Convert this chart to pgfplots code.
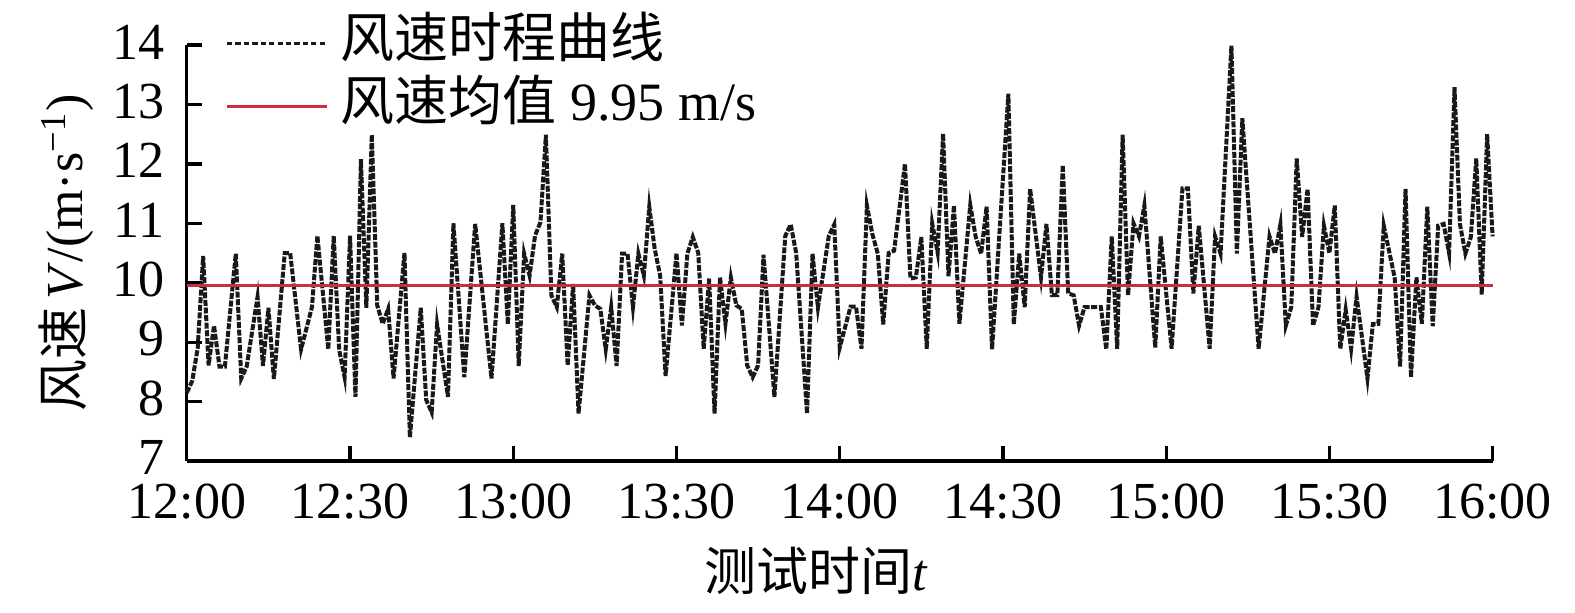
\documentclass[border=0pt]{standalone}
\usepackage{fontspec}
\setmainfont{Liberation Serif}
\newfontfamily\cjk{Noto Sans CJK SC}
\usepackage{pgfplots}
\pgfplotsset{compat=1.18}
\definecolor{meanred}{RGB}{205,45,65}
\definecolor{curveblk}{RGB}{25,25,25}

\begin{document}
\fontsize{13}{15.6}\selectfont
\begin{tikzpicture}
\useasboundingbox (-46.7pt,-37.75pt) rectangle (347pt,115.25pt);
\begin{axis}[
    at={(0,0)}, anchor=south west,
    width=326.4pt, height=104pt, scale only axis,
    xmin=0, xmax=240, ymin=7, ymax=14,
    axis x line=bottom, axis y line=left,
    axis line style={line width=0.8pt, -},
    tick style={line width=0.8pt, black},
    tick align=inside, major tick length=3.8pt,
    xtick={0,30,...,240},
    xticklabels={12:00,12:30,13:00,13:30,14:00,14:30,15:00,15:30,16:00},
    ytick={7,8,...,14},
    /pgf/number format/assume math mode=true,
    tick label style={font=\fontsize{13}{15.6}\selectfont, inner sep=0pt},
    yticklabel style={xshift=-5.5pt, yshift=0.8pt},
    xticklabel style={yshift=-5.4pt},
    xlabel={{\cjk 测试时间}\textit{t}},
    xlabel style={at={(axis description cs:0.482,-0.264)}, anchor=center},
    ylabel={{\cjk 风速}\,\textit{V}/(m·s\textsuperscript{−1})},
    ylabel style={at={(axis description cs:-0.092,0.5)}, anchor=center},
    label style={font=\fontsize{13}{15.6}\selectfont},
    clip=false,
    legend cell align=left,
    legend image code/.code={\draw[#1] (0pt,0pt) -- (25pt,0pt);},
    legend style={draw=none, fill=none, inner sep=0pt,
        at={(axis description cs:0.029,1.073)}, anchor=north west,
        font=\fontsize{13.5}{16}\selectfont,
        nodes={inner sep=0.5pt, text height=10pt, text depth=3pt},
        row sep=1.75pt, column sep=2.5pt},
]
\addplot[curveblk, line width=1pt, dash pattern=on 1.5pt off 0.4pt, forget plot] coordinates {
(0,8.15) (1,8.35) (2,8.9) (3,10.45) (4,8.61) (5,9.28) (6,8.59) (7,8.59)
(9,10.49) (10,8.39) (11,8.59) (13,9.76) (14,8.6) (15,9.58) (16,8.38)
(18,10.5) (19,10.5) (21,8.88) (23,9.59) (24,10.79) (26,8.88) (27,10.79)
(28,8.87) (29,8.41) (30,10.79) (31,8.08) (32,12.08) (33,9.58) (34,12.49)
(35,9.62) (36,9.31) (37,9.56) (38,8.39) (40,10.5) (41,7.4) (43,9.58)
(44,8.03) (45,7.82) (46,9.3) (48,8.08) (49,11.0) (51,8.41) (53,10.99)
(56,8.39) (58,11.0) (59,9.3) (60,11.31) (61,8.6) (62,10.49) (63,10.12)
(64,10.79) (65,11.02) (66,12.49) (67,9.79) (68,9.59) (69,10.49) (70,8.61)
(71,9.98) (72,7.8) (74,9.79) (75,9.62) (76,9.56) (77,8.88) (78,9.59)
(79,8.6) (80,10.49) (81,10.49) (82,9.59) (83,10.49) (84,10.12) (85,11.28)
(86,10.57) (87,10.12) (88,8.43) (90,10.5) (91,9.28) (92,10.49) (93,10.77)
(94,10.5) (95,8.89) (96,10.07) (97,7.8) (98,10.09) (99,9.31) (100,10.09)
(101,9.62) (102,9.56) (103,8.61) (104,8.41) (105,8.61) (106,10.47)
(108,8.08) (110,10.79) (111,10.98) (112,10.5) (114,7.8) (115,10.49)
(116,9.58) (118,10.79) (119,10.98) (120,8.91) (122,9.6) (123,9.6)
(124,8.89) (125,11.3) (126,10.82) (127,10.49) (128,9.3) (129,10.5)
(130,10.54) (132,12.0) (133,10.07) (134,10.09) (135,10.77) (136,8.89)
(137,11.0) (138,10.51) (139,12.51) (140,10.11) (141,11.3) (142,9.31)
(144,11.31) (145,10.77) (146,10.49) (147,11.28) (148,8.88) (151,13.18)
(152,9.3) (153,10.49) (154,9.59) (155,11.58) (157,10.09) (158,10.99)
(159,9.79) (160,9.79) (161,11.98) (162,9.82) (163,9.79) (164,9.28)
(165,9.59) (168,9.59) (169,8.88) (170,10.78) (171,8.89) (172,12.49)
(173,9.79) (174,11.0) (175,10.78) (176,11.3) (178,8.91) (179,10.78)
(181,8.89) (183,11.59) (184,11.59) (185,9.82) (186,10.96) (188,8.89)
(189,10.78) (190,10.49) (192,13.99) (193,10.49) (194,12.77) (197,8.89)
(199,10.78) (200,10.49) (201,10.98) (202,9.28) (203,9.59) (204,12.09)
(205,10.77) (206,11.58) (207,9.28) (208,9.59) (209,10.96) (210,10.5)
(211,11.3) (212,8.89) (213,9.55) (214,8.89) (215,9.77) (217,8.39)
(218,9.31) (219,9.31) (220,10.96) (222,10.09) (223,8.59) (224,11.58)
(225,8.41) (226,10.09) (227,9.31) (228,11.28) (229,9.27) (230,10.96)
(231,10.99) (232,10.5) (233,13.29) (234,10.99) (235,10.49) (236,10.77)
(237,12.09) (238,9.8) (239,12.5) (240,10.78)
};
\addlegendimage{curveblk, line width=0.6pt, dash pattern=on 1.3pt off 0.8pt}
\addlegendentry{\cjk 风速时程曲线}
\addplot[meanred, line width=0.8pt] coordinates {(0,9.95) (240,9.95)};
\addlegendentry{{\cjk 风速均值} 9.95 m/s}
\end{axis}
\end{tikzpicture}
\end{document}
